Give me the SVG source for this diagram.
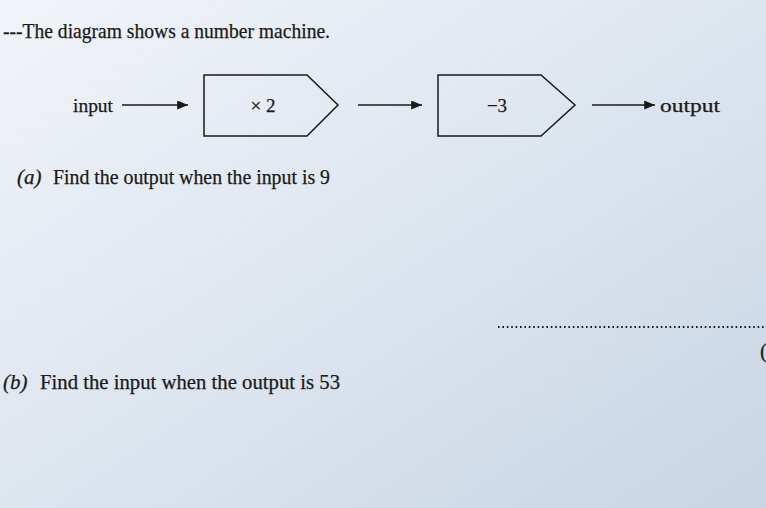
<svg xmlns="http://www.w3.org/2000/svg" width="766" height="508" viewBox="0 0 766 508">
<defs>
<linearGradient id="bg" x1="0" y1="0" x2="1" y2="1">
<stop offset="0" stop-color="#f1f4f8"/>
<stop offset="0.5" stop-color="#dde5ef"/>
<stop offset="1" stop-color="#c8d5e5"/>
</linearGradient>
<marker id="ah" viewBox="0 0 12 10" refX="12" refY="5" markerWidth="12" markerHeight="9" markerUnits="userSpaceOnUse" orient="auto">
<path d="M0,0 L12,5 L0,10 Z" fill="#1a1a1a"/>
</marker>
<style>
text{font-family:"Liberation Serif","Times New Roman",serif;fill:#1a1a1a;stroke:#1a1a1a;stroke-width:0.25;}
.t{font-size:21px;}
.n{font-size:19px;}
.box{fill:none;stroke:#1a1a1a;stroke-width:1.5;}
.conn{stroke:#1a1a1a;stroke-width:1.5;fill:none;}
</style>
</defs>
<rect width="766" height="508" fill="url(#bg)"/>
<text class="t" x="3" y="38" textLength="327" lengthAdjust="spacingAndGlyphs">---The diagram shows a number machine.</text>
<g id="input"><text class="n" x="73" y="112" textLength="40" lengthAdjust="spacingAndGlyphs">input</text></g>
<g id="times2">
<path class="box" d="M204,75 L307,75 L338,105 L307,136 L204,136 Z"/>
<text class="n" x="263" y="112" text-anchor="middle">× 2</text>
</g>
<g id="minus3">
<path class="box" d="M438,75 L541,75 L575,105 L541,136 L438,136 Z"/>
<text class="n" x="497" y="112" text-anchor="middle">−3</text>
</g>
<g id="output"><text class="n" x="660" y="112" textLength="60" lengthAdjust="spacingAndGlyphs">output</text></g>
<g id="connectors">
<line class="conn" x1="122" y1="105" x2="188" y2="105" marker-end="url(#ah)"/>
<line class="conn" x1="358" y1="105" x2="422" y2="105" marker-end="url(#ah)"/>
<line class="conn" x1="592" y1="105" x2="655" y2="105" marker-end="url(#ah)"/>
</g>
<text class="t" x="17" y="184"><tspan font-style="italic">(a)</tspan></text>
<text class="t" x="53" y="184" textLength="277" lengthAdjust="spacingAndGlyphs">Find the output when the input is 9</text>
<line x1="498" y1="327" x2="766" y2="327" stroke="#1a1a1a" stroke-width="2" stroke-dasharray="1.6 2.8"/>
<text class="t" x="760" y="358" font-size="20">(</text>
<text class="t" x="3" y="389"><tspan font-style="italic">(b)</tspan></text>
<text class="t" x="40" y="389" textLength="300" lengthAdjust="spacingAndGlyphs">Find the input when the output is 53</text>
</svg>
